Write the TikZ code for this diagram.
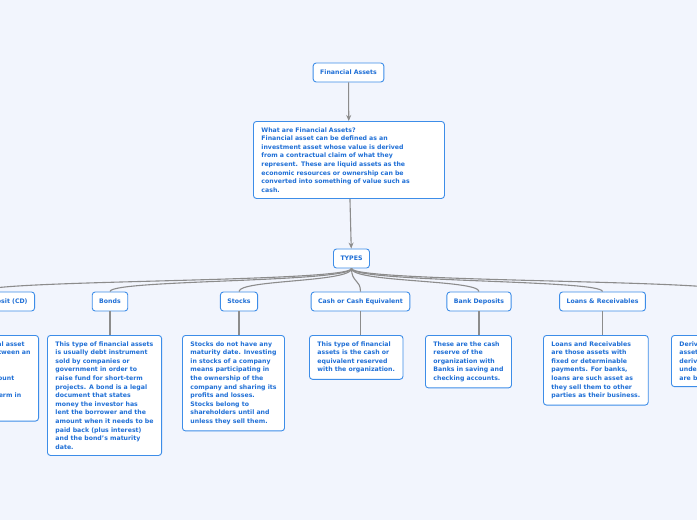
\documentclass[tikz,border=0pt]{standalone}
\usetikzlibrary{arrows.meta,calc}
\usepackage{fontspec}
\setmainfont{DejaVu Sans}
\definecolor{bg}{HTML}{F2F5FD}
\definecolor{bd}{HTML}{3D8DE8}
\definecolor{tx}{HTML}{1F6FD6}
\definecolor{ln}{HTML}{8C8C8C}
\begin{document}
\begin{tikzpicture}[x=1pt,y=-1pt,
 box/.style={draw=bd,line width=0.9pt,fill=white,rounded corners=3pt,text=tx,font=\fontsize{6.2}{8.6}\selectfont\bfseries},
 tbox/.style={box,minimum height=19pt,inner xsep=7pt,inner ysep=0pt},
 dbox/.style={box,align=left,anchor=north west,inner xsep=8pt,inner ysep=6pt},
 con/.style={draw=ln,line width=1.1pt},
 arr/.style={con,-{Stealth[length=6pt,width=5pt]}}]
\useasboundingbox[fill=bg] (0,0) rectangle (697,520);
\node[tbox] (fa) at (348.5,72.5) {Financial Assets};
\node[dbox,text width=175pt] (wa) at (253,121) {What are Financial Assets?\\Financial asset can be defined as an\\investment asset whose value is derived\\from a contractual claim of what they\\represent. These are liquid assets as the\\economic resources or ownership can be\\converted into something of value such as\\cash.};
\node[tbox] (ty) at (351.5,258.5) {TYPES};
\node[tbox,anchor=east] (cd) at (35,301.5) {Certificate of Deposit (CD)};
\node[tbox] (bo) at (110,301.5) {Bonds};
\node[tbox] (st) at (239,301.5) {Stocks};
\node[tbox] (ca) at (360.5,301.5) {Cash or Cash Equivalent};
\node[tbox] (bk) at (479,301.5) {Bank Deposits};
\node[tbox] (lo) at (602.5,301.5) {Loans \& Receivables};
\node[tbox,anchor=west] (de) at (705,301.5) {Derivatives};
\node[dbox,anchor=north east] (cdd) at (39,335) {A CD is a type of financial asset\\that is an agreement between an\\investor and a bank.\\In this, the\\investor deposits an amount\\for a fixed period in the\\bank and at the end of term in\\receives a guaranteed\\return.};
\node[dbox] (bod) at (47,335) {This type of financial assets\\is usually debt instrument\\sold by companies or\\government in order to\\raise fund for short-term\\projects. A bond is a legal\\document that states\\money the investor has\\lent the borrower and the\\amount when it needs to be\\paid back (plus interest)\\and the bond's maturity\\date.};
\node[dbox] (std) at (182,335) {Stocks do not have any\\maturity date. Investing\\in stocks of a company\\means participating in\\the ownership of the\\company and sharing its\\profits and losses.\\Stocks belong to\\shareholders until and\\unless they sell them.};
\node[dbox] (cad) at (309,335) {This type of financial\\assets is the cash or\\equivalent reserved\\with the organization.};
\node[dbox] (bkd) at (425,335) {These are the cash\\reserve of the\\organization with\\Banks in saving and\\checking accounts.};
\node[dbox] (lod) at (543,335) {Loans and Receivables\\are those assets with\\fixed or determinable\\payments. For banks,\\loans are such asset as\\they sell them to other\\parties as their business.};
\node[dbox] (ded) at (671,335) {Derivatives are financial\\assets whose value is\\derived from the\\underlying assets which\\are based on.};
\draw[arr] (fa) -- (wa);
\draw[arr] (wa) -- (ty);
\foreach \n in {cd,bo,st,ca,bk,lo,de}
  \draw[con] (ty.south) .. controls ($(ty.south)+(0,14)$) and ($(\n.north)+(0,-12)$) .. (\n.north);
\foreach \a/\b in {cd/cdd,bo/bod,st/std,ca/cad,bk/bkd,lo/lod,de/ded}
  \draw[con] (\a.south) -- (\a.south |- \b.north);
\end{tikzpicture}
\end{document}
